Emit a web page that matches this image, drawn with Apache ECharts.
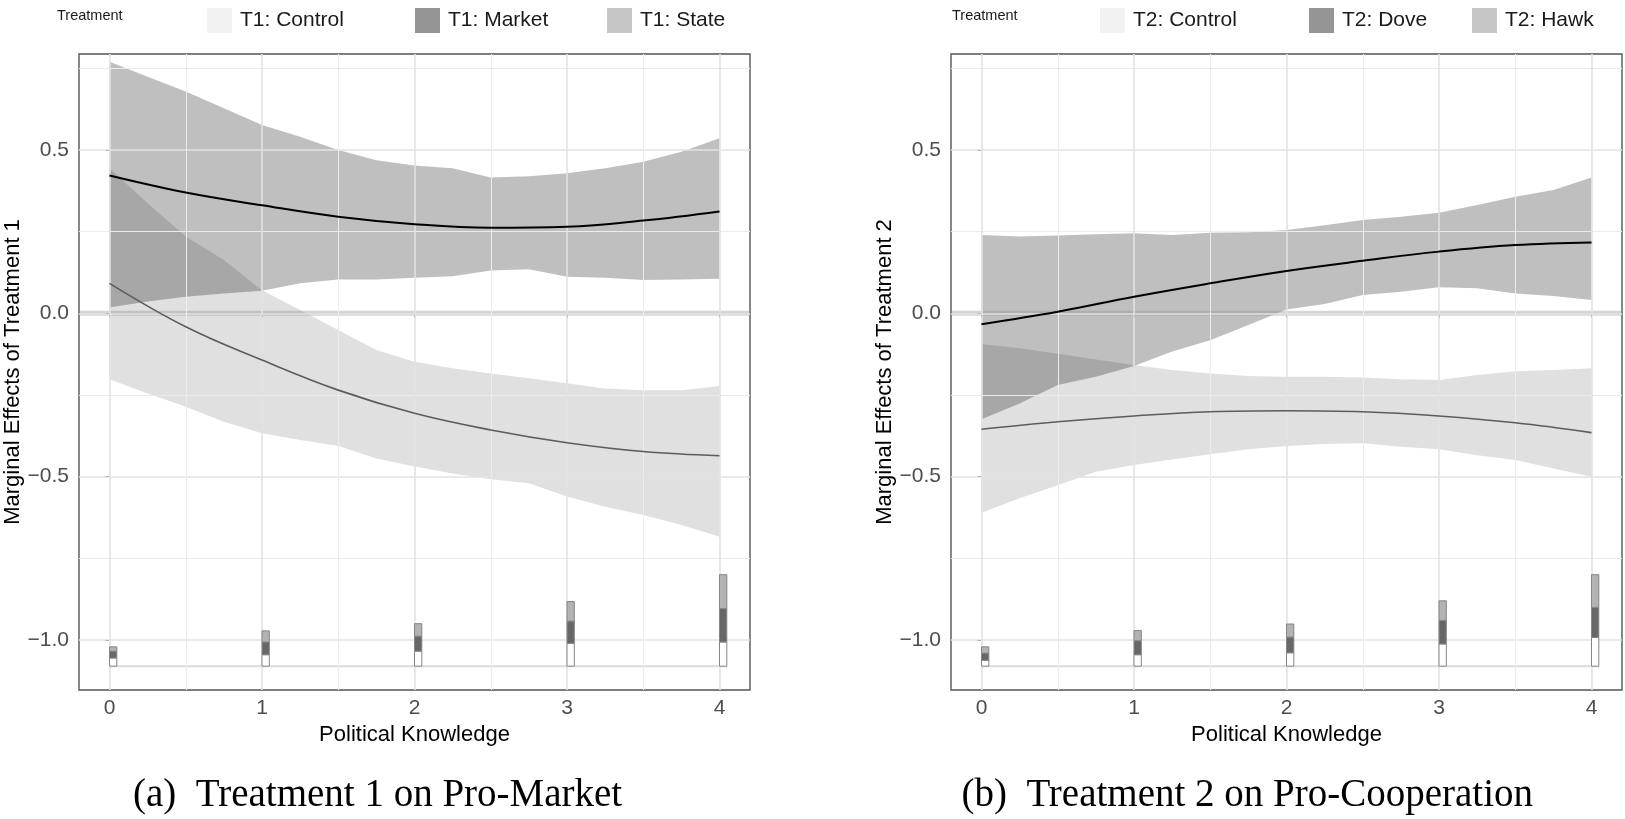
<!DOCTYPE html>
<html>
<head>
<meta charset="utf-8">
<title>Marginal effects</title>
<script src="https://cdn.jsdelivr.net/npm/echarts@6/dist/echarts.min.js"></script>
<style>
  html, body { margin: 0; padding: 0; background: #fff; }
  #chart { width: 1625px; height: 819px; }
</style>
</head>
<body>
<div id="chart"></div>
<script>
// x positions of the band edges and of the fitted lines
const bandX = [0, 0.25, 0.5, 0.75, 1, 1.25, 1.5, 1.75, 2, 2.25, 2.5, 2.75, 3, 3.25, 3.5, 3.75, 4];
const lineX = [0, 0.5, 1, 1.5, 2, 2.5, 3, 3.5, 4];
const histX = [0, 1, 2, 3, 4];
const xTicks = [0, 1, 2, 3, 4];
const yTicks = [-1, -0.5, 0, 0.5];

// panel (a): treatment 1
const t1Names = ['T1: Control', 'T1: Market', 'T1: State'];
const marketLine = [0.422, 0.370, 0.331, 0.296, 0.273, 0.262, 0.265, 0.284, 0.312];
const marketUpper = [0.770, 0.724, 0.679, 0.628, 0.577, 0.541, 0.500, 0.469, 0.453, 0.444, 0.416, 0.420, 0.429, 0.444, 0.464, 0.495, 0.536];
const marketLower = [0.018, 0.036, 0.051, 0.061, 0.069, 0.092, 0.104, 0.104, 0.109, 0.114, 0.131, 0.135, 0.112, 0.109, 0.102, 0.104, 0.106];
const stateLine = [0.092, -0.041, -0.143, -0.235, -0.306, -0.357, -0.396, -0.423, -0.436];
const stateUpper = [0.444, 0.337, 0.235, 0.163, 0.071, 0.010, -0.051, -0.112, -0.148, -0.168, -0.184, -0.199, -0.214, -0.230, -0.235, -0.235, -0.222];
const stateLower = [-0.202, -0.245, -0.286, -0.332, -0.367, -0.388, -0.406, -0.444, -0.469, -0.490, -0.508, -0.520, -0.561, -0.592, -0.617, -0.648, -0.684];
const t1HistControl = [0.025, 0.035, 0.046, 0.070, 0.074];
const t1HistMarket = [0.021, 0.039, 0.046, 0.068, 0.102];
const t1HistState = [0.013, 0.034, 0.038, 0.060, 0.104];

// panel (b): treatment 2
const t2Names = ['T2: Control', 'T2: Dove', 'T2: Hawk'];
const doveLine = [-0.033, 0.005, 0.051, 0.092, 0.130, 0.161, 0.189, 0.209, 0.217];
const doveUpper = [0.240, 0.235, 0.238, 0.242, 0.245, 0.240, 0.247, 0.248, 0.255, 0.270, 0.286, 0.296, 0.308, 0.332, 0.357, 0.378, 0.416];
const doveLower = [-0.324, -0.276, -0.219, -0.194, -0.161, -0.117, -0.082, -0.036, 0.012, 0.029, 0.056, 0.066, 0.080, 0.077, 0.061, 0.053, 0.041];
const hawkLine = [-0.355, -0.332, -0.314, -0.301, -0.298, -0.301, -0.314, -0.335, -0.365];
const hawkUpper = [-0.094, -0.107, -0.124, -0.141, -0.158, -0.173, -0.184, -0.192, -0.194, -0.194, -0.196, -0.202, -0.204, -0.189, -0.177, -0.173, -0.168];
const hawkLower = [-0.610, -0.566, -0.526, -0.485, -0.464, -0.447, -0.431, -0.416, -0.406, -0.400, -0.398, -0.408, -0.416, -0.434, -0.449, -0.475, -0.500];
const t2HistControl = [0.018, 0.035, 0.041, 0.068, 0.088];
const t2HistDove = [0.022, 0.043, 0.048, 0.072, 0.092];
const t2HistHawk = [0.019, 0.031, 0.040, 0.060, 0.100];

const HIST_BASE = -1.08;
const HIST_W = 0.048;
const SANS = '"Liberation Sans", Arial, Helvetica, sans-serif';
const SERIF = '"Liberation Serif", "Times New Roman", serif';

const chart = echarts.init(document.getElementById('chart'), null, { renderer: 'canvas' });

function pairs(xs, ys){
  return xs.map((x, i) => [x, ys[i]]);
}

// shaded confidence band, drawn as a polygon through the axes' coords
function bandSeries(axis, lower, upper, fill, z){
  return {
    type: 'custom', xAxisIndex: axis, yAxisIndex: axis, silent: true, z: z,
    data: [[bandX[0], lower[0]]],
    renderItem: (params, api) => {
      const top = bandX.map((x, i) => api.coord([x, upper[i]]));
      const bot = bandX.map((x, i) => api.coord([x, lower[i]])).reverse();
      return { type: 'polygon', shape: { points: top.concat(bot) }, style: { fill: fill } };
    }
  };
}

function lineSeries(axis, ys, color, width){
  return {
    type: 'line', xAxisIndex: axis, yAxisIndex: axis, silent: true, z: 5,
    data: pairs(lineX, ys), smooth: 0.4, showSymbol: false,
    lineStyle: { color: color, width: width }
  };
}

// one stacked segment of the little histograms along the bottom
function histSeries(axis, name, heights, below, fill){
  const rows = histX.map((x, i) => {
    let y0 = HIST_BASE;
    below.forEach(b => { y0 += b[i]; });
    return [x, y0, y0 + heights[i]];
  });
  return {
    name: name, type: 'custom', xAxisIndex: axis, yAxisIndex: axis, silent: true, z: 6,
    itemStyle: { color: fill, borderColor: '#858585' },
    encode: { x: 0, y: [1, 2] },
    data: rows,
    renderItem: (params, api) => {
      const p0 = api.coord([api.value(0), api.value(2)]);
      const p1 = api.coord([api.value(0) + HIST_W, api.value(1)]);
      return {
        type: 'rect',
        shape: { x: p0[0], y: p0[1], width: p1[0] - p0[0], height: p1[1] - p0[1] },
        style: { fill: fill, stroke: '#858585', lineWidth: 1 }
      };
    }
  };
}

// panel gridlines, zero line and histogram baseline
function frameSeries(axis){
  const major = { color: '#e2e2e2', width: 1.6, type: 'solid' };
  const minor = { color: '#ececec', width: 1, type: 'solid' };
  const grid = [];
  [-1, -0.5, 0, 0.5].forEach(v => grid.push({ yAxis: v, lineStyle: major }));
  [-0.75, -0.25, 0.25, 0.75].forEach(v => grid.push({ yAxis: v, lineStyle: minor }));
  [0, 1, 2, 3, 4].forEach(v => grid.push({ xAxis: v, lineStyle: major }));
  [0.5, 1.5, 2.5, 3.5].forEach(v => grid.push({ xAxis: v, lineStyle: minor }));
  return [
    {
      type: 'line', xAxisIndex: axis, yAxisIndex: axis, silent: true, z: 1,
      data: [[0, HIST_BASE], [4 + HIST_W, HIST_BASE]], showSymbol: false,
      lineStyle: { color: '#dadada', width: 2 },
      markLine: { silent: true, symbol: 'none', label: { show: false }, animation: false, data: grid }
    },
    {
      type: 'line', xAxisIndex: axis, yAxisIndex: axis, silent: true, z: 4,
      data: [[-0.2, 0], [4.2, 0]], showSymbol: false,
      lineStyle: { color: 'rgba(150,150,150,0.4)', width: 5 }
    }
  ];
}

function legendItem(name, left, color){
  return {
    left: left, top: 3, icon: 'rect', itemWidth: 25, itemHeight: 25, selectedMode: false,
    data: [{ name: name, itemStyle: { color: color, borderWidth: 0 } }],
    textStyle: { fontSize: 21, fontFamily: SANS, color: '#1a1a1a', padding: [0, 0, 0, 3] }
  };
}

function xAxisOpt(grid){
  return {
    type: 'value', gridIndex: grid, min: -0.2, max: 4.2,
    name: 'Political Knowledge', nameLocation: 'middle', nameGap: 30,
    nameTextStyle: { fontSize: 22, fontFamily: SANS, color: '#000' },
    axisLine: { show: false },
    axisTick: { show: true, length: 4, customValues: xTicks, lineStyle: { color: '#333' } },
    axisLabel: { customValues: xTicks, margin: 8, fontSize: 21, fontFamily: SANS, color: '#4d4d4d' },
    splitLine: { show: false }
  };
}

function yAxisOpt(grid, title){
  return {
    type: 'value', gridIndex: grid, min: -1.153, max: 0.794,
    name: title, nameLocation: 'middle', nameGap: 55,
    nameTextStyle: { fontSize: 22, fontFamily: SANS, color: '#000' },
    axisLine: { show: false },
    axisTick: { show: true, length: 4, customValues: yTicks, lineStyle: { color: '#333' } },
    axisLabel: {
      customValues: yTicks, margin: 10, fontSize: 21, fontFamily: SANS, color: '#4d4d4d',
      formatter: v => v.toFixed(1).replace('-', '\u2212')
    },
    splitLine: { show: false }
  };
}

const option = {
  backgroundColor: '#fff',
  animation: false,
  grid: [
    { left: 79, top: 54, width: 671, height: 636, show: true, borderColor: '#555', borderWidth: 1.4, backgroundColor: '#fff' },
    { left: 951, top: 54, width: 671, height: 636, show: true, borderColor: '#555', borderWidth: 1.4, backgroundColor: '#fff' }
  ],
  legend: [
    legendItem(t1Names[0], 202, '#f2f2f2'),
    legendItem(t1Names[1], 410, '#959595'),
    legendItem(t1Names[2], 602, '#c6c6c6'),
    legendItem(t2Names[0], 1095, '#f2f2f2'),
    legendItem(t2Names[1], 1304, '#959595'),
    legendItem(t2Names[2], 1467, '#c6c6c6')
  ],
  xAxis: [xAxisOpt(0), xAxisOpt(1)],
  yAxis: [yAxisOpt(0, 'Marginal Effects of Treatment 1'), yAxisOpt(1, 'Marginal Effects of Treatment 2')],
  graphic: [
    { type: 'text', style: { x: 57, y: 16, text: 'Treatment', fontSize: 14.5, fontFamily: SANS, fill: '#1a1a1a', verticalAlign: 'middle' } },
    { type: 'text', style: { x: 952, y: 16, text: 'Treatment', fontSize: 14.5, fontFamily: SANS, fill: '#1a1a1a', verticalAlign: 'middle' } },
    { type: 'text', style: { x: 133, y: 796, text: '(a)  Treatment 1 on Pro-Market', fontSize: 39, fontFamily: SERIF, fill: '#000', align: 'left', verticalAlign: 'middle' } },
    { type: 'text', style: { x: 1533, y: 796, text: '(b)  Treatment 2 on Pro-Cooperation', fontSize: 39, fontFamily: SERIF, fill: '#000', align: 'right', verticalAlign: 'middle' } }
  ],
  series: [
    ...frameSeries(0),
    bandSeries(0, marketLower, marketUpper, 'rgba(0,0,0,0.25)', 2),
    bandSeries(0, stateLower, stateUpper, 'rgba(0,0,0,0.12)', 3),
    lineSeries(0, stateLine, '#5c5c5c', 1.6),
    lineSeries(0, marketLine, '#000', 2),
    histSeries(0, t1Names[0], t1HistControl, [], '#ffffff'),
    histSeries(0, t1Names[1], t1HistMarket, [t1HistControl], '#676767'),
    histSeries(0, t1Names[2], t1HistState, [t1HistControl, t1HistMarket], '#b3b3b3'),

    ...frameSeries(1),
    bandSeries(1, doveLower, doveUpper, 'rgba(0,0,0,0.25)', 2),
    bandSeries(1, hawkLower, hawkUpper, 'rgba(0,0,0,0.12)', 3),
    lineSeries(1, hawkLine, '#5c5c5c', 1.6),
    lineSeries(1, doveLine, '#000', 2),
    histSeries(1, t2Names[0], t2HistControl, [], '#ffffff'),
    histSeries(1, t2Names[1], t2HistDove, [t2HistControl], '#676767'),
    histSeries(1, t2Names[2], t2HistHawk, [t2HistControl, t2HistDove], '#b3b3b3')
  ]
};

chart.setOption(option);
</script>
</body>
</html>
